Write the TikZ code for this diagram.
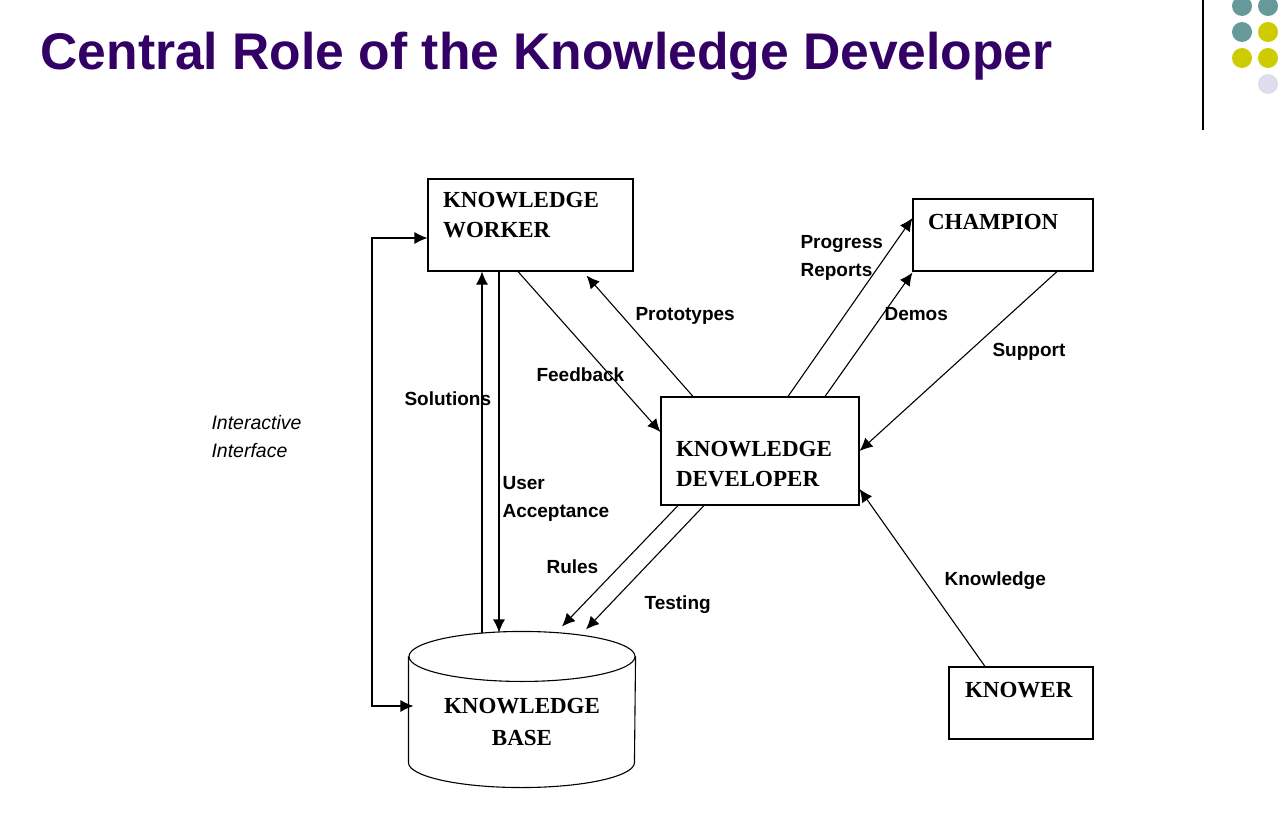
\documentclass[tikz,border=0pt]{standalone}
\usepackage{fontspec}
\setmainfont{Liberation Serif}
\newfontfamily\labfont{Liberation Sans}
\usetikzlibrary{arrows.meta, positioning}
\definecolor{titlepurple}{RGB}{51,0,102}
\definecolor{dotteal}{RGB}{102,153,153}
\definecolor{dotolive}{RGB}{204,204,0}
\definecolor{dotlav}{RGB}{221,221,238}

\begin{document}
\begin{tikzpicture}[x=1pt, y=-1pt, line width=1.1pt,
  arr/.style={-{Latex[length=13pt,width=12pt]}},
  arrboth/.style={{Latex[length=13pt,width=12pt]}-{Latex[length=13pt,width=12pt]}},
  box/.style={draw, inner sep=0pt},
  boxtext/.style={inner sep=0pt, align=left, font=\fontsize{23}{30}\selectfont\bfseries},
  lab/.style={anchor=north west, inner sep=0pt, align=left, font=\labfont\fontsize{19}{28}\selectfont\bfseries},
  labit/.style={anchor=north west, inner sep=0pt, align=left, font=\labfont\fontsize{19.5}{28}\selectfont\itshape}]
\useasboundingbox (0,0) rectangle (1281,832);

% title and corner dots
\node[anchor=base west, inner sep=0pt, text=titlepurple,
  font=\labfont\fontsize{51.6}{60}\selectfont\bfseries] (title) at (40,70) {Central Role of the Knowledge Developer};
\draw (1203,0) -- (1203,130);
\foreach \cx/\cy/\col in {1242/6/dotteal, 1268/6/dotteal, 1242/32/dotteal, 1268/32/dotolive,
    1242/58/dotolive, 1268/58/dotolive, 1268/84/dotlav} {
    \fill[\col] (\cx,\cy) circle (10pt);
};

% boxes
\node[box, minimum width=205pt, minimum height=92pt] (kw) at (530.5,225) {};
\node[box, minimum width=180pt, minimum height=72pt] (champ) at (1003,235) {};
\node[box, minimum width=198pt, minimum height=108pt] (kd) at (760,451) {};
\node[box, minimum width=144pt, minimum height=72pt] (knower) at (1021,703) {};
\node[inner sep=0pt, minimum width=226pt, minimum height=155pt] (kb) at (522,709.5) {};
\draw ([yshift=-25pt]kb.north west) -- ([yshift=25pt]kb.south west)
    arc[start angle=180, end angle=360, x radius=113pt, y radius=25pt] -- ([yshift=-25pt]kb.north east);
\draw ([yshift=-25pt]kb.north) ellipse [x radius=113pt, y radius=25pt];

\node[boxtext, below right=13pt and 15pt of kw.north west] (kwtext) {KNOWLEDGE\\WORKER};
\node[boxtext, below right=15pt and 15pt of champ.north west] (champtext) {CHAMPION};
\node[boxtext, below right=44pt and 15pt of kd.north west] (kdtext) {KNOWLEDGE\\DEVELOPER};
\node[boxtext, below right=15pt and 16pt of knower.north west] (knowertext) {KNOWER};
\node[boxtext, align=center, font=\fontsize{23}{32}\selectfont\bfseries, below=66pt of kb.north] (kbtext) {KNOWLEDGE\\BASE};

% connectors
\draw[arrboth] ([yshift=-13pt]kw.west) -| (372,706) -- ([xshift=5pt,yshift=3.5pt]kb.west);
\draw[arr] ([xshift=-40pt,yshift=-2pt]kb.north) -- ([xshift=-48.5pt]kw.south);
\draw[arr] ([xshift=-31.5pt]kw.south) -- ([xshift=-23pt,yshift=-1pt]kb.north);
\draw[arr] ([xshift=-12.5pt]kw.south) -- ([yshift=19pt]kd.west);
\draw[arr] ([xshift=-67pt]kd.north) -- ([xshift=56pt,yshift=-4pt]kw.south);
\draw[arr] ([xshift=28pt]kd.north) -- ([yshift=17pt]champ.west);
\draw[arr] ([xshift=65pt]kd.north) -- ([yshift=-1pt]champ.south west);
\draw[arr] ([xshift=54pt]champ.south) -- (kd.east);
\draw[arr] ([xshift=-36pt]knower.north) -- ([yshift=-38pt]kd.east);
\draw[arr] ([xshift=-82pt]kd.south) -- ([xshift=40pt,yshift=5pt]kb.north);
\draw[arr] ([xshift=-56pt]kd.south) -- ([xshift=64pt,yshift=2pt]kb.north);

% labels
\node[lab] (progress) at (800,235) {Progress\\Reports};
\node[lab] (demos) at (884,307) {Demos};
\node[lab] (support) at (992,343) {Support};
\node[lab] (prototypes) at (635,307) {Prototypes};
\node[lab] (feedback) at (536,367) {Feedback};
\node[lab] (solutions) at (404,391) {Solutions};
\node[lab] (useracc) at (502,476) {User\\Acceptance};
\node[lab] (rules) at (546,559) {Rules};
\node[lab] (testing) at (644,595) {Testing};
\node[lab] (knowledge) at (944,571) {Knowledge};
\node[labit] (interactive) at (211,415) {Interactive\\Interface};
\end{tikzpicture}
\end{document}
